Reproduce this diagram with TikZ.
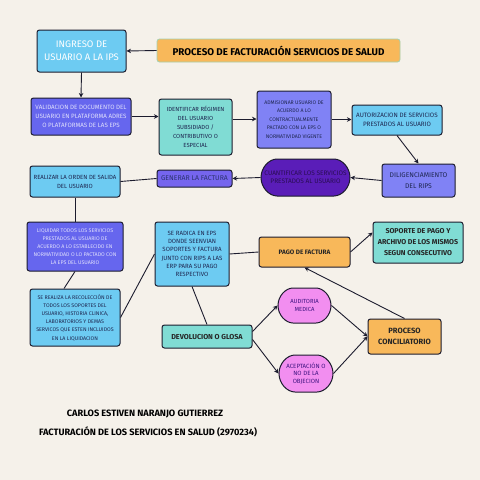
\documentclass[tikz,border=0pt]{standalone}
\usepackage{fontspec}
\setmainfont{Fira Sans}
\newfontfamily\cond{Fira Sans}
\newfontfamily\condb{Fira Sans Bold}
\usetikzlibrary{arrows.meta,calc,shapes.misc}
\definecolor{bg}{HTML}{F5F1EA}
\definecolor{lblue}{HTML}{6DCBF2}
\definecolor{vblue}{HTML}{6666EE}
\definecolor{lviol}{HTML}{8082F5}
\definecolor{gviol}{HTML}{7565EE}
\definecolor{dpurp}{HTML}{5A1DB8}
\definecolor{teal}{HTML}{80DCD4}
\definecolor{orng}{HTML}{F8B85A}
\definecolor{pink}{HTML}{F28EF0}
\definecolor{edge}{HTML}{1C1C2E}
\definecolor{navy}{HTML}{1E2650}
\tikzset{
  box/.style={draw=edge, line width=1pt, rounded corners=2.5pt, inner sep=1pt, align=center,
    font=\cond\fontsize{6}{8}\selectfont, text=navy},
  pill/.style={box, rounded rectangle},
  conn/.style={draw=edge, line width=0.9pt},
  arr/.style={conn, -{Stealth[length=4.5pt,width=4.5pt]}},
}
\begin{document}
\begin{tikzpicture}[x=1pt,y=-1pt]
\fill[bg] (0,0) rectangle (480,480);
\useasboundingbox (0,0) rectangle (480,480);

\node[box, fill=lblue, text=white, minimum width=89pt, minimum height=42pt, font=\cond\fontsize{9.5}{13}\selectfont] (ingreso) at (81.5,51) {INGRESO DE\\USUARIO A LA IPS};
\node[box, draw=teal!70!orng, line width=0.8pt, fill=orng, text=black, minimum width=243pt, minimum height=23pt, font=\condb\fontsize{9.8}{11}\selectfont] (title) at (278.5,50.5) {PROCESO DE FACTURACIÓN SERVICIOS DE SALUD};

\node[box, fill=vblue, text=white!80!vblue, minimum width=100pt, minimum height=37pt, font=\cond\fontsize{6.2}{9}\selectfont] (valid) at (81,116.5) {VALIDACION DE DOCUMENTO DEL\\USUARIO EN PLATAFORMA ADRES\\O PLATAFORMAS DE LAS EPS};
\node[box, fill=teal, minimum width=73pt, minimum height=56pt, font=\cond\fontsize{5.9}{9}\selectfont] (ident) at (195.5,127) {IDENTIFICAR RÉGIMEN\\DEL USUARIO\\SUBSIDIADO /\\CONTRIBUTIVO O\\ESPECIAL};
\node[box, fill=lviol, minimum width=74pt, minimum height=57pt, font=\cond\fontsize{5.2}{8.6}\selectfont] (admis) at (294,119.5) {ADMISIONAR USUARIO DE\\ACUERDO A LO\\CONTRACTUALMENTE\\PACTADO CON LA EPS O\\NORMATIVIDAD VIGENTE};
\node[box, fill=lblue, minimum width=90pt, minimum height=30pt, font=\cond\fontsize{6.3}{9}\selectfont] (autor) at (397,120) {AUTORIZACION DE SERVICIOS\\PRESTADOS AL USUARIO};

\node[box, fill=lviol, minimum width=73pt, minimum height=33pt, font=\cond\fontsize{6.8}{11}\selectfont] (dilig) at (418.5,180.5) {DILIGENCIAMIENTO\\DEL RIPS};
\node[pill, fill=dpurp, text=dpurp!45!black, minimum width=89pt, minimum height=37pt, inner sep=0pt, font=\cond\fontsize{6.5}{8}\selectfont] (cuant) at (305.5,177.5) {CUANTIFICAR LOS SERVICIOS\\PRESTADOS AL USUARIO};
\node[box, fill=gviol, text=navy!80!vblue, minimum width=75pt, minimum height=17pt, font=\cond\fontsize{6.9}{8}\selectfont] (gener) at (194.5,178.5) {GENERAR LA FACTURA};
\node[box, fill=lblue, minimum width=90pt, minimum height=31pt, font=\cond\fontsize{6}{9}\selectfont] (realiz) at (75,181.5) {REALIZAR LA ORDEN DE SALIDA\\DEL USUARIO};

\node[box, fill=vblue, text=white!80!vblue, minimum width=96pt, minimum height=49pt, font=\cond\fontsize{5.3}{8}\selectfont] (liquid) at (75,246.5) {LIQUIDAR TODOS LOS SERVICIOS\\PRESTADOS AL USUARIO DE\\ACUERDO A LO ESTABLECIDO EN\\NORMATIVIDAD O LO PACTADO CON\\LA EPS DEL USUARIO};
\node[box, fill=lblue, minimum width=90pt, minimum height=57pt, font=\cond\fontsize{5.3}{8.2}\selectfont] (recol) at (75,317.5) {SE REALIZA LA RECOLECCIÓN DE\\TODOS LOS SOPORTES DEL\\USUARIO, HISTORIA CLINICA,\\LABORATORIOS Y DEMAS\\SERVICOS QUE ESTEN INCLUIDOS\\EN LA LIQUIDACION};
\node[box, fill=lblue, minimum width=74pt, minimum height=64pt, font=\cond\fontsize{6.1}{8.3}\selectfont] (radica) at (192,254) {SE RADICA EN EPS\\DONDE SEENVIAN\\SOPORTES Y FACTURA\\JUNTO CON RIPS A LAS\\ERP PARA SU PAGO\\RESPECTIVO};

\node[box, fill=orng, text=black!85, minimum width=91pt, minimum height=30pt, font=\condb\fontsize{6.4}{8}\selectfont] (pago) at (304.5,252) {PAGO DE FACTURA};
\node[box, fill=teal, text=black!85, minimum width=90pt, minimum height=41pt, font=\condb\fontsize{7.1}{11}\selectfont] (sopor) at (418,242.5) {SOPORTE DE PAGO Y\\ARCHIVO DE LOS MISMOS\\SEGUN CONSECUTIVO};
\node[box, fill=teal, text=black!85, minimum width=90pt, minimum height=23pt, font=\condb\fontsize{7.2}{9}\selectfont] (devol) at (207,336.5) {DEVOLUCION O GLOSA};
\node[pill, fill=pink, text=dpurp!70!black, minimum width=55pt, minimum height=35pt, font=\cond\fontsize{5.9}{7.2}\selectfont] (audit) at (304.5,305.5) {AUDITORIA\\MEDICA};
\node[pill, fill=pink, text=dpurp!70!black, minimum width=54pt, minimum height=37pt, inner sep=0pt, font=\cond\fontsize{6.1}{7.6}\selectfont] (acept) at (306,373.5) {ACEPTACIÓN O\\NO DE LA\\OBJECION};
\node[box, fill=orng, text=black!85, minimum width=73pt, minimum height=35pt, font=\condb\fontsize{7.6}{11}\selectfont] (concil) at (404.5,336.5) {PROCESO\\CONCILIATORIO};

\node[font=\condb\fontsize{9.2}{10}\selectfont, text=black, inner sep=0pt] (autor1) at (145,414.5) {CARLOS ESTIVEN NARANJO GUTIERREZ};
\node[font=\condb\fontsize{9.2}{10}\selectfont, text=black, inner sep=0pt] (autor2) at (148,432) {FACTURACIÓN DE LOS SERVICIOS EN SALUD (2970234)};

\draw[arr] (title.west) -- (ingreso.east);
\draw[arr] (ingreso.south) -- (valid.north);
\draw[arr] (valid.east) -- (valid.east -| ident.west);
\draw[arr] ([yshift=8pt]ident.east) -- ([yshift=8pt]ident.east -| admis.west);
\draw[arr] (admis.east) -- (admis.east -| autor.west);
\draw[arr] (autor.south) -- (dilig.north);
\draw[arr] (dilig.west) -- (cuant.east);
\draw[arr] (cuant.west) -- (gener.east);
\draw[conn] (gener.west) -- (realiz.east);
\draw[conn] (realiz.south) -- (liquid.north);
\draw[conn] (liquid.south) -- ([xshift=-11pt]recol.north);
\draw[conn] (recol.east) -- (radica.west);
\draw[conn] (radica.east) -- (pago.west);
\draw[conn] (radica.south) -- (devol.north);
\draw[arr] (pago.east) -- ([yshift=10pt]sopor.west);
\draw[arr] ([yshift=5pt]devol.east) -- (audit.west);
\draw[arr] ([yshift=-3pt]devol.east) -- (acept.west);
\draw[arr] (audit.east) -- (concil.west);
\draw[arr] (acept.east) -- (concil.west);
\draw[arr] (concil.north) -- (pago.south);
\end{tikzpicture}
\end{document}
